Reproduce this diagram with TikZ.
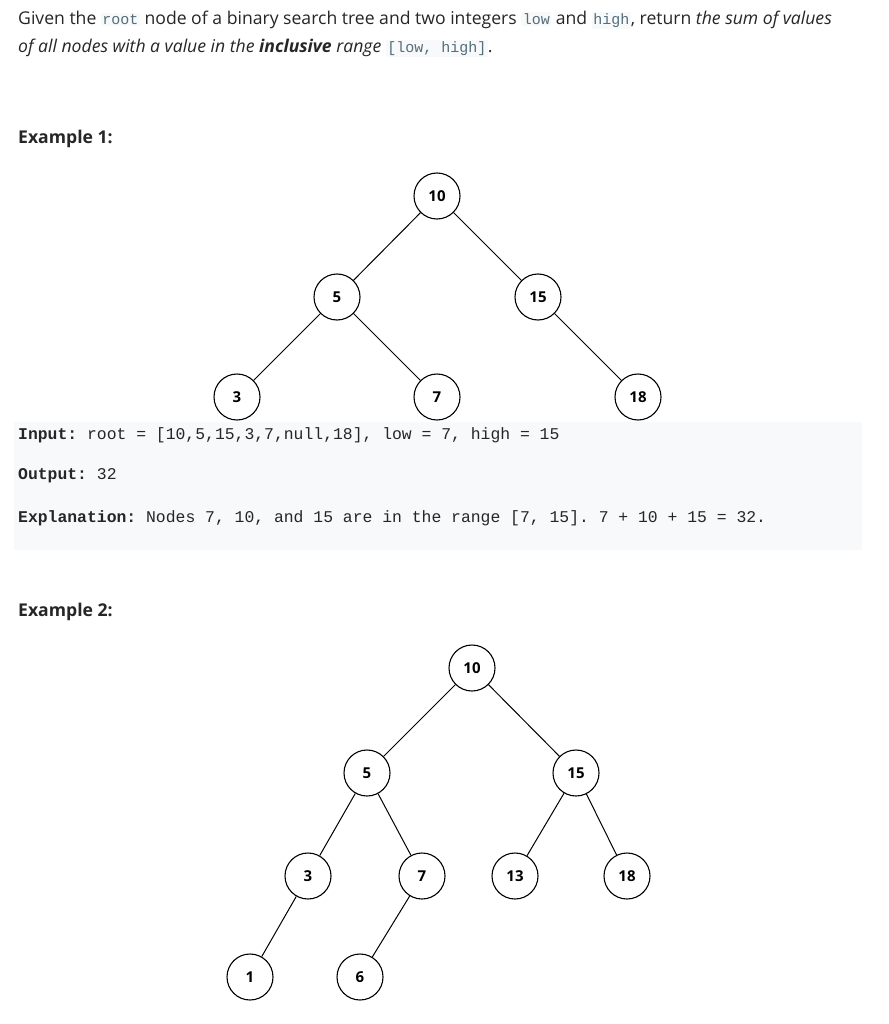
\documentclass[tikz,border=0pt]{standalone}
\usepackage{fontspec}
\setmainfont{Open Sans}
\setmonofont{Liberation Mono}
\definecolor{codebg}{HTML}{F7F9FA}
\definecolor{codefg}{HTML}{546E7A}
\definecolor{txt}{HTML}{262626}
\newcommand{\ic}[1]{{\setlength{\fboxsep}{1.5pt}\colorbox{codebg}{\textcolor{codefg}{\ttfamily\fontsize{15}{16}\selectfont #1}}}}
\begin{document}
\begin{tikzpicture}[x=1pt,y=-1pt,
  tn/.style={circle,draw=black,line width=1.1pt,fill=white,minimum size=46pt,inner sep=0pt,font=\fontsize{15}{15}\selectfont\bfseries},
  ed/.style={line width=1pt},
  para/.style={anchor=west,inner sep=0pt,text=txt,font=\fontsize{17.6}{20}\selectfont},
  code/.style={anchor=west,inner sep=0pt,text=txt,font=\ttfamily\fontsize{16.4}{18}\selectfont}]
\useasboundingbox (0,0) rectangle (888,1024);
\fill[white] (0,0) rectangle (888,1024);
\node[para] (l1) at (18,20) {Given the \ic{root} node of a binary search tree and two integers \ic{low} and \ic{high}, return \textit{the sum of values}};
\node[para] (l2) at (18,48) {\textit{of all nodes with a value in the \textbf{inclusive} range} \ic{[low, high]}.};
\node[para,font=\fontsize{17.6}{20}\selectfont\bfseries] (e1) at (18,139) {Example 1:};
\node[para,font=\fontsize{17.6}{20}\selectfont\bfseries] (e2) at (18,612) {Example 2:};
% box
\fill[codebg] (14,422) rectangle (862,550);
\node[code] (in) at (18,435) {\textbf{Input:} root = [10,5,15,3,7,null,18], low = 7, high = 15};
\node[code] (out) at (18,476) {\textbf{Output:} 32};
\node[code] (ex) at (18,518) {\textbf{Explanation:} Nodes 7, 10, and 15 are in the range [7, 15]. 7 + 10 + 15 = 32.};
% tree 1
\node[tn] (a10) at (437,196) {10};
\node[tn] (a5) at (337,297) {5};
\node[tn] (a15) at (538,297) {15};
\node[tn] (a3) at (237,397) {3};
\node[tn] (a7) at (437,397) {7};
\node[tn] (a18) at (638,397) {18};
\draw[ed] (a10)--(a5) (a10)--(a15) (a5)--(a3) (a5)--(a7) (a15)--(a18);
% tree 2
\node[tn] (b10) at (472,668) {10};
\node[tn] (b5) at (367,773) {5};
\node[tn] (b15) at (576,773) {15};
\node[tn] (b3) at (308,876) {3};
\node[tn] (b7) at (422,876) {7};
\node[tn] (b13) at (515,876) {13};
\node[tn] (b18) at (627,876) {18};
\node[tn] (b1) at (250,977) {1};
\node[tn] (b6) at (360,977) {6};
\draw[ed] (b10)--(b5) (b10)--(b15) (b5)--(b3) (b5)--(b7) (b15)--(b13) (b15)--(b18) (b3)--(b1) (b7)--(b6);
\end{tikzpicture}
\end{document}
